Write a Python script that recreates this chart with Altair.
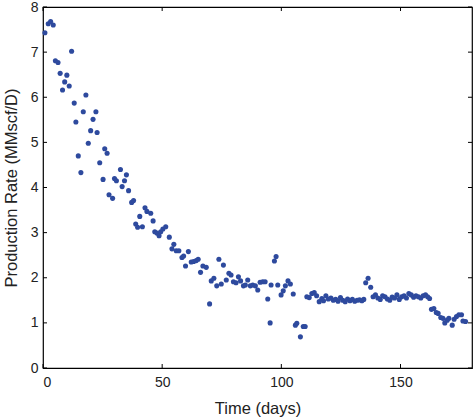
import altair as alt
import pandas as pd

# Time (days) and production rate (MMscf/D)
days = [
    0.8, 2.2, 3.2, 4.3, 5.2, 6.3, 7.2, 8.2, 9.1, 10.0, 11.0, 12.0, 13.1, 13.8, 14.8, 15.9,
    16.9, 18.0, 19.0, 20.0, 21.0, 22.2, 22.7, 23.8, 25.2, 25.9, 26.9, 27.7, 29.2, 30.0,
    30.8, 32.5, 33.2, 34.2, 35.0, 35.9, 37.2, 38.0, 38.9, 39.7, 40.6, 41.7, 42.8, 43.6,
    45.2, 46.2, 46.9, 47.8, 48.7, 49.4, 50.3, 51.5, 53.0, 54.1, 54.9, 55.9, 57.0, 58.3,
    59.0, 59.8, 61.0, 62.2, 63.2, 64.3, 65.1, 66.1, 67.1, 68.5, 69.9, 70.6, 71.7, 72.9,
    73.8, 74.8, 75.7, 76.9, 78.0, 78.9, 79.9, 81.0, 82.0, 82.9, 84.1, 84.9, 85.9, 87.0,
    88.0, 89.1, 90.1, 91.1, 92.2, 93.2, 94.3, 95.3, 95.7, 97.1, 97.8, 98.5, 99.9, 100.8,
    101.7, 102.8, 103.8, 105.0, 105.9, 106.5, 108.0, 109.2, 110.0, 110.7, 111.7, 112.8,
    113.8, 114.8, 115.9, 117.0, 117.7, 118.7, 119.7,
    120.8, 121.8, 122.8, 123.8, 124.8, 125.8, 126.8, 127.8, 128.8, 129.8, 130.8, 131.8,
    132.8, 133.8, 134.6, 135.4, 136.4, 137.5, 138.5,
    139.5, 140.5, 141.5, 142.5, 143.5, 144.5, 145.5, 146.5, 147.5, 148.5, 149.5, 150.5,
    151.5, 152.5, 153.5, 154.5, 155.5, 156.5, 157.5, 158.5, 159.5, 160.5, 161.4, 162.2,
    163.0, 164.0, 165.0, 165.8, 166.9, 167.8, 168.6, 169.6, 170.3, 171.7, 172.5, 173.5,
    174.5, 175.6, 176.2, 177.3,
]
rate = [
    7.43, 7.63, 7.68, 7.60, 6.81, 6.77, 6.53, 6.16, 6.34, 6.49, 6.25, 7.02, 5.87, 5.45, 4.70, 4.33,
    5.68, 6.05, 4.98, 5.26, 5.51, 5.68, 5.22, 4.55, 4.18, 4.86, 4.76, 3.84, 3.76, 4.20,
    4.15, 4.40, 4.02, 4.15, 4.28, 3.93, 3.67, 3.71, 3.19, 3.12, 3.36, 3.13, 3.55, 3.47,
    3.43, 3.26, 3.02, 2.99, 2.93, 3.02, 3.08, 3.13, 2.90, 2.64, 2.74, 2.60, 2.60, 2.45,
    2.48, 2.26, 2.58, 2.35, 2.36, 2.38, 2.41, 2.12, 2.26, 2.23, 1.42, 1.93, 1.99, 1.82,
    2.41, 1.86, 2.28, 1.95, 2.10, 2.06, 1.91, 1.89, 2.02, 1.93, 1.82, 1.84, 1.95, 1.82,
    1.84, 1.82, 1.73, 1.90, 1.91, 1.91, 1.53, 1.00, 1.84, 2.37, 2.47, 1.84, 1.62, 1.71,
    1.82, 1.93, 1.86, 1.64, 0.95, 0.99, 0.69, 0.92, 0.92, 1.58, 1.56, 1.65,
    1.67, 1.60, 1.47, 1.54, 1.49, 1.60, 1.53,
    1.55, 1.50, 1.52, 1.48, 1.56, 1.50, 1.47, 1.53, 1.49, 1.52, 1.48, 1.50,
    1.51, 1.49, 1.52, 1.89, 1.99, 1.79, 1.58,
    1.62, 1.55, 1.52, 1.60, 1.58, 1.53, 1.50, 1.57, 1.55, 1.62, 1.52, 1.58,
    1.60, 1.55, 1.65, 1.62, 1.57, 1.60, 1.58, 1.55, 1.60, 1.62, 1.58, 1.54,
    1.30, 1.32, 1.23, 1.21, 1.12, 1.10, 1.00, 1.06, 1.10, 0.95, 1.08, 1.14,
    1.18, 1.18, 1.04, 1.03,
]

x_ticks = [0, 50, 100, 150]
y_ticks = [0, 1, 2, 3, 4, 5, 6, 7, 8]

W, H = 429, 361
FONT = "Liberation Sans"
TL = 4

df = pd.DataFrame({"day": days, "rate": rate})
xt = pd.DataFrame({"t": x_ticks})
yt = pd.DataFrame({"t": y_ticks})

xscale = alt.Scale(domain=[0, 180], nice=False, zero=False)
yscale = alt.Scale(domain=[0, 8], nice=False)

points = alt.Chart(df).mark_circle(size=26, color="#2E4A9E", opacity=1).encode(
    x=alt.X("day:Q", scale=xscale,
            axis=alt.Axis(title="Time (days)", values=x_ticks, ticks=False, tickSize=0,
                          domain=False, grid=False, labelPadding=7, labelFontSize=14,
                          titleFontSize=16.5, titleFontWeight="normal", titlePadding=11,
                          labelFont=FONT, titleFont=FONT, labelColor="#222", titleColor="#222")),
    y=alt.Y("rate:Q", scale=yscale,
            axis=alt.Axis(title="Production Rate (MMscf/D)", values=y_ticks, ticks=False,
                          tickSize=0, domain=False, grid=False, labelPadding=5,
                          labelFontSize=14, titleFontSize=16.5, titleFontWeight="normal",
                          titlePadding=11, labelFont=FONT, titleFont=FONT,
                          labelColor="#222", titleColor="#222")),
)

xt_bottom = alt.Chart(xt).mark_rule(color="black", strokeWidth=1).encode(
    x=alt.X("t:Q", scale=xscale), y=alt.value(H), y2=alt.value(H - TL))
xt_top = alt.Chart(xt).mark_rule(color="black", strokeWidth=1).encode(
    x=alt.X("t:Q", scale=xscale), y=alt.value(0), y2=alt.value(TL))
yt_left = alt.Chart(yt).mark_rule(color="black", strokeWidth=1).encode(
    y=alt.Y("t:Q", scale=yscale), x=alt.value(0), x2=alt.value(TL))
yt_right = alt.Chart(yt).mark_rule(color="black", strokeWidth=1).encode(
    y=alt.Y("t:Q", scale=yscale), x=alt.value(W), x2=alt.value(W - TL))

chart = alt.layer(points, xt_bottom, xt_top, yt_left, yt_right).properties(
    width=W, height=H,
    autosize=alt.AutoSizeParams(type="none"),
    padding={"left": 43, "top": 7, "right": 2, "bottom": 51},
    background="white",
).configure_view(stroke="black", strokeWidth=1.2)

chart.save("out.html", embed_options={"renderer": "svg", "actions": False})
